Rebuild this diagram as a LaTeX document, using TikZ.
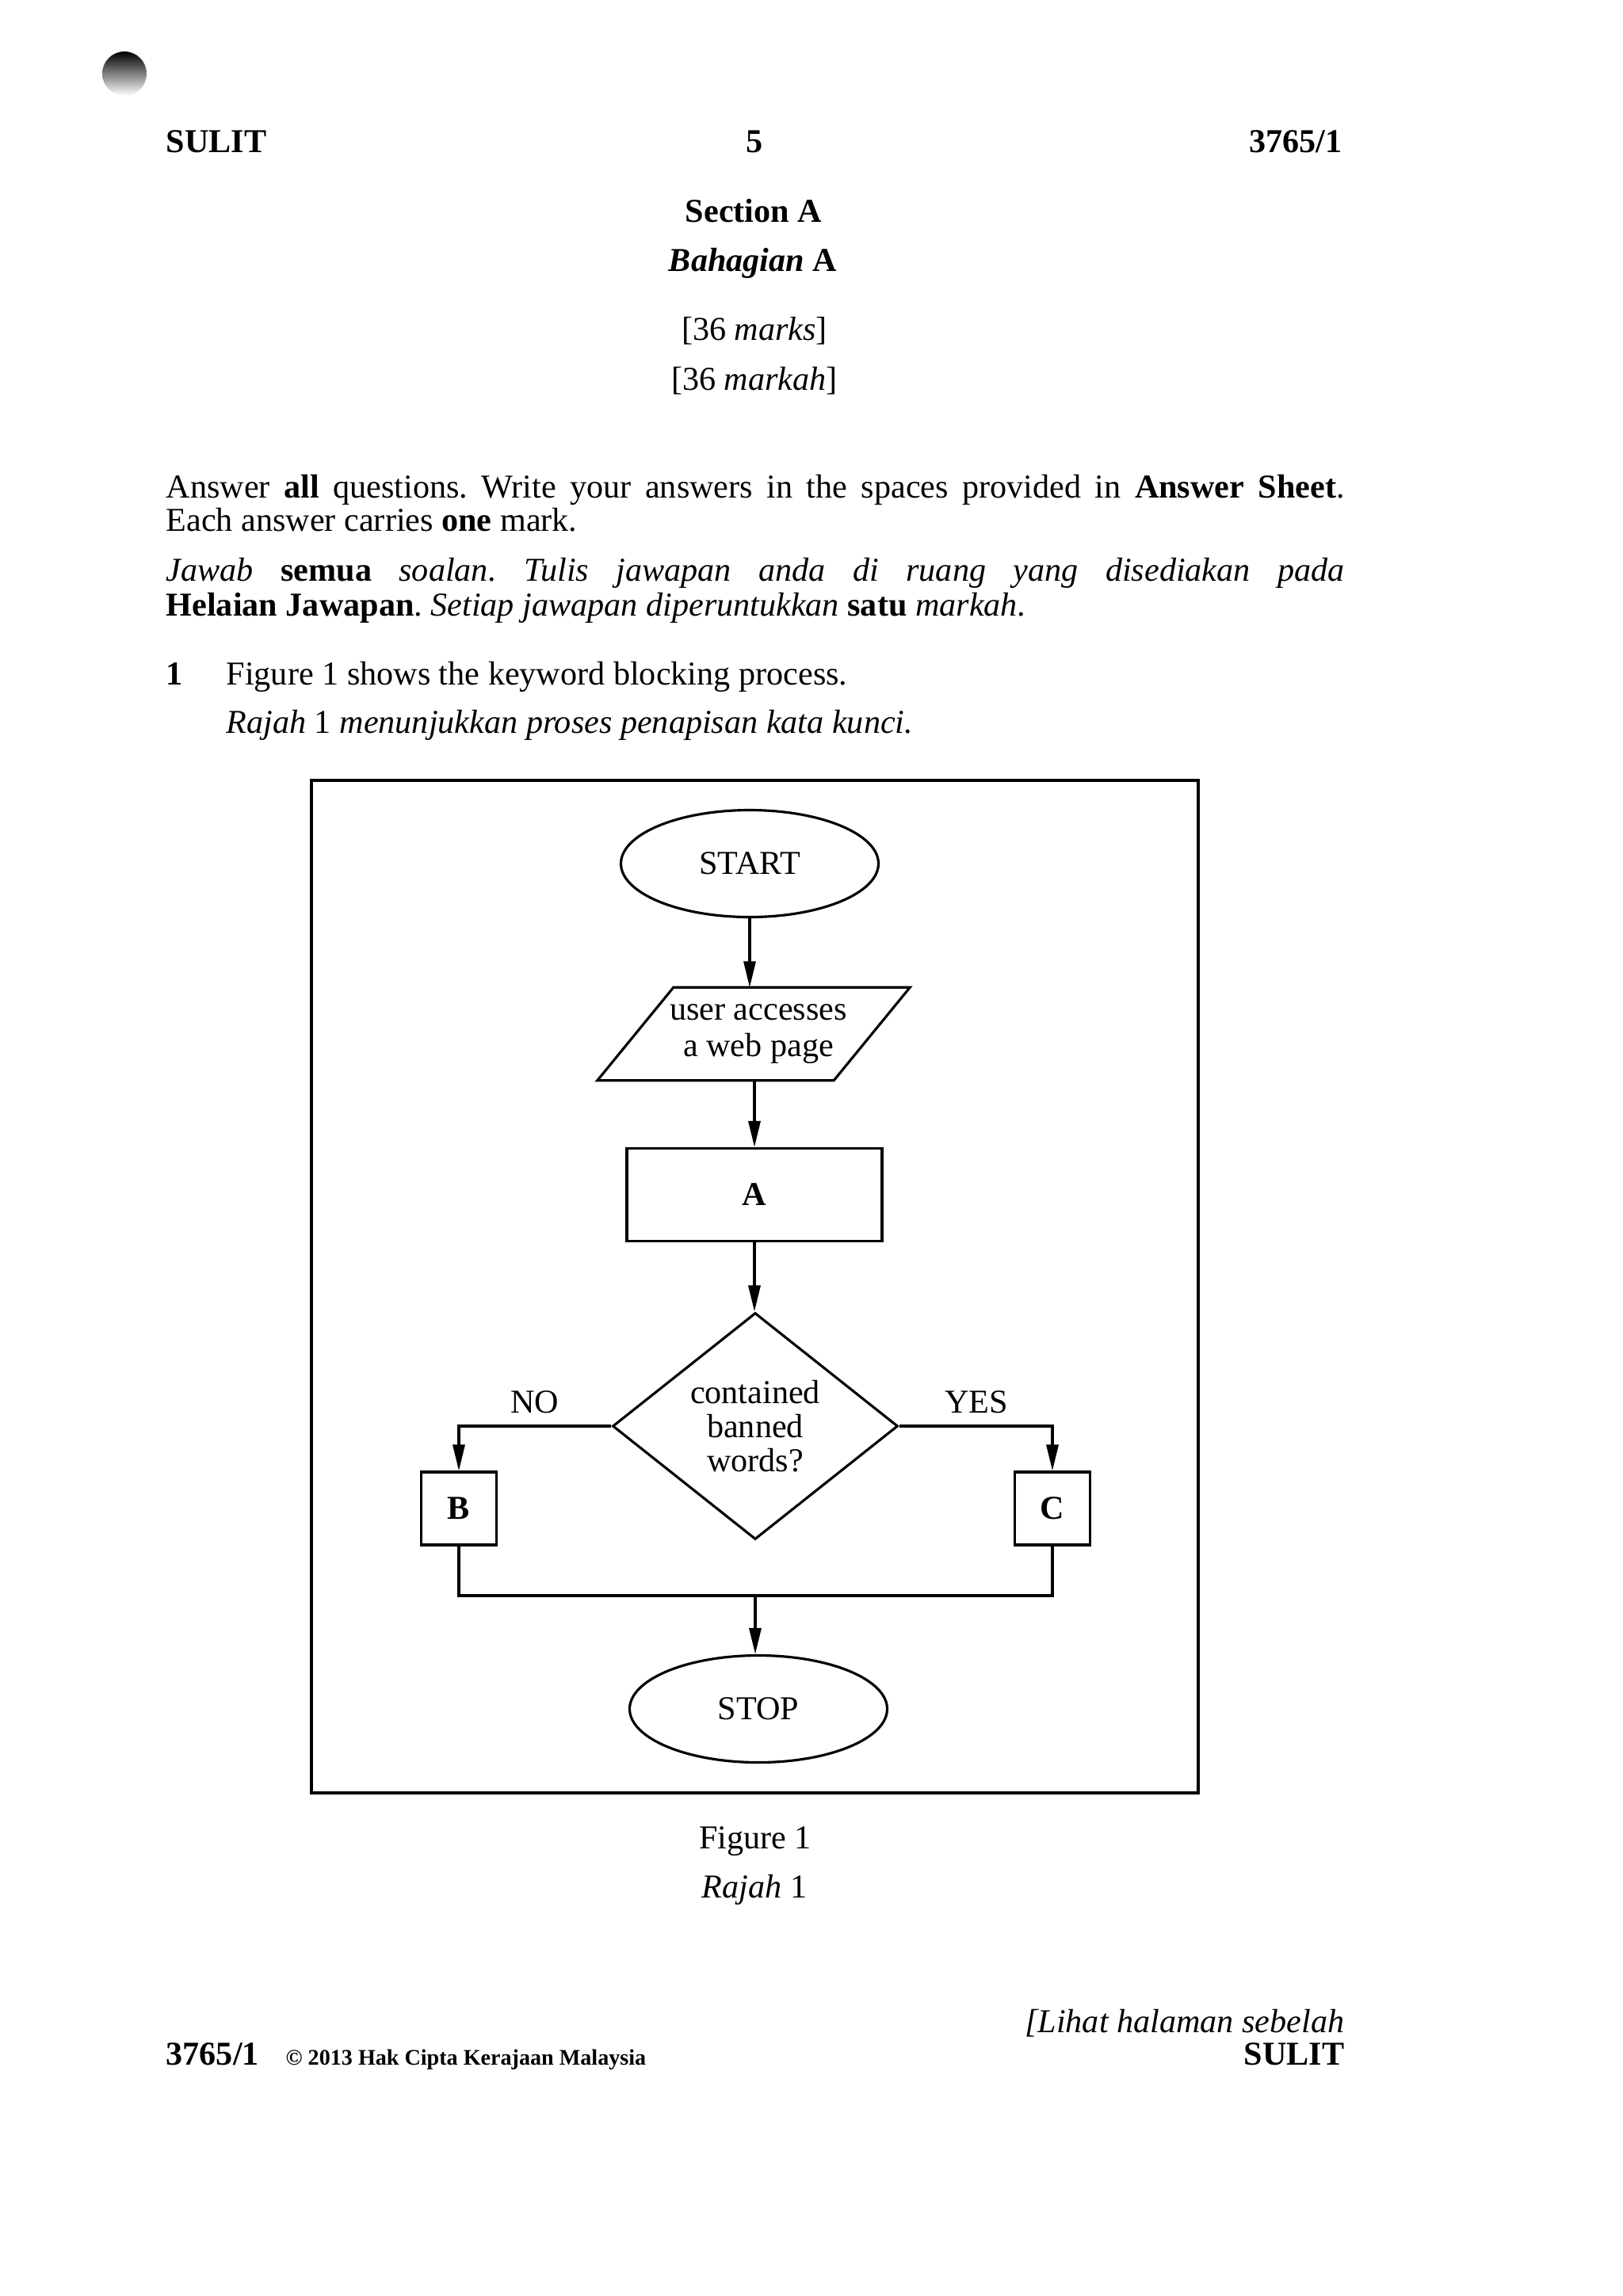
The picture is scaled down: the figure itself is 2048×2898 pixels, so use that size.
\documentclass[tikz,border=0pt]{standalone}
\usepackage{fontspec}
\setmainfont{Liberation Serif}
\usetikzlibrary{shapes.geometric,arrows.meta}
\begin{document}
\frenchspacing
\begin{tikzpicture}[x=0.1mm,y=-0.1mm,
  txt/.style={inner sep=0pt, font=\fontsize{12}{14}\selectfont},
  btxt/.style={inner sep=0pt, font=\fontsize{12}{14}\selectfont\bfseries},
  flowline/.style={line width=0.9pt},
  flow/.style={flowline, -{Triangle[length=3.3mm,width=1.5mm]}},
  term/.style={ellipse, draw, line width=0.9pt, minimum width=32.5mm, minimum height=13.5mm, inner sep=0pt, font=\fontsize{12}{14}\selectfont},
  proc/.style={rectangle, draw, line width=0.9pt, inner sep=0pt, font=\fontsize{12}{14}\selectfont\bfseries},
  lbl/.style={inner sep=0pt, font=\fontsize{12}{14}\selectfont, anchor=base},
]
\useasboundingbox (0,0) rectangle (2048,2898);
\fill[white] (0,0) rectangle (2048,2898);

% punch hole
\shade[top color=black, middle color=black!90, bottom color=white] (157,93) circle [radius=2.8mm];

% header
\node[btxt, anchor=base west] (hsulit) at (209,192) {SULIT};
\node[btxt, anchor=base] (hpage) at (952,192) {5};
\node[btxt, anchor=base east] (hcode) at (1694,192) {3765/1};

\node[btxt, anchor=base] (sec) at (951,280) {Section A};
\node[btxt, anchor=base] (bah) at (950,342) {\itshape Bahagian \upshape A};
\node[txt, anchor=base] (marks) at (952,429) {[36 \textit{marks}]};
\node[txt, anchor=base] (markah) at (952,492) {[36 \textit{markah}]};

% instructions
\node[txt, anchor=base west] (l1) at (209,628) {\makebox[148.7mm][s]{Answer \textbf{all} questions. Write your answers in the spaces provided in \textbf{Answer Sheet}.}};
\node[txt, anchor=base west] (l2) at (209,670) {Each answer carries \textbf{one} mark.};
\node[txt, anchor=base west] (l3) at (209,733) {\makebox[148.7mm][s]{\itshape Jawab \textbf{\upshape semua} soalan. Tulis jawapan anda di ruang yang disediakan pada}};
\node[txt, anchor=base west] (l4) at (209,777) {\textbf{Helaian Jawapan}. \textit{Setiap jawapan diperuntukkan} \textbf{satu} \textit{markah}.};

\node[btxt, anchor=base west] (qnum) at (209,864) {1};
\node[txt, anchor=base west] (q1) at (285,864) {Figure 1 shows the keyword blocking process.};
\node[txt, anchor=base west] (q2) at (285,925) {\textit{Rajah} 1 \textit{menunjukkan proses penapisan kata kunci.}};

% frame
\draw[line width=1.2pt] (393,985) rectangle (1512,2263);

% flowchart
\node[term] (start) at (946,1090) {START};
\node[inner sep=0pt, minimum width=29.7mm, minimum height=11.6mm, align=center, font=\fontsize{12}{13}\selectfont] (para) at (957,1305) {user accesses\\a web page};
\draw[flowline] ([xshift=-5.4mm]para.south west) -- ([xshift=4.2mm]para.north west) -- ([xshift=4.2mm]para.north east) -- ([xshift=-5.4mm]para.south east) -- cycle;
\node[proc, minimum width=32.2mm, minimum height=11.7mm] (A) at (952,1508) {A};
\node[diamond, draw, line width=0.9pt, aspect=1.25, minimum width=36mm, minimum height=28.6mm, inner sep=0pt, align=center, font=\fontsize{12}{12.3}\selectfont] (dec) at (953,1800) {contained\\banned\\words?};
\node[proc, minimum width=9.45mm, minimum height=9.2mm] (B) at (579,1904) {B};
\node[proc, minimum width=9.45mm, minimum height=9.2mm] (C) at (1328,1904) {C};
\node[term] (stop) at (957,2157) {STOP};
\coordinate (join) at (953,2014);

\node[lbl] (no) at (675,1783) {NO};
\node[lbl] (yes) at (1232,1783) {YES};

\draw[flow] (start.south) -- (start.south |- para.north);
\draw[flow] (A.north |- para.south) -- (A.north);
\draw[flow] (A.south) -- (A.south |- dec.north);
\draw[flow] (dec.west) -| (B.north);
\draw[flow] (dec.east) -| (C.north);
\draw[flowline] (B.south) -- (B.south |- join) -- (C.south |- join) -- (C.south);
\draw[flow] (join) -- (join |- stop.north);

% captions
\node[txt, anchor=base] (fig) at (953,2333) {Figure 1};
\node[txt, anchor=base] (raj) at (952,2395) {\textit{Rajah} 1};

% footer
\node[txt, anchor=base east] (lihat) at (1697,2565) {\textit{[Lihat halaman sebelah}};
\node[btxt, anchor=base east] (fsulit) at (1697,2606) {SULIT};
\node[btxt, anchor=base west] (fcode) at (209,2606) {3765/1};
\node[inner sep=0pt, anchor=base west, font=\fontsize{8}{9}\selectfont\bfseries] (copy) at (360,2606) {\textcopyright\ 2013 Hak Cipta Kerajaan Malaysia};
\end{tikzpicture}
\end{document}
